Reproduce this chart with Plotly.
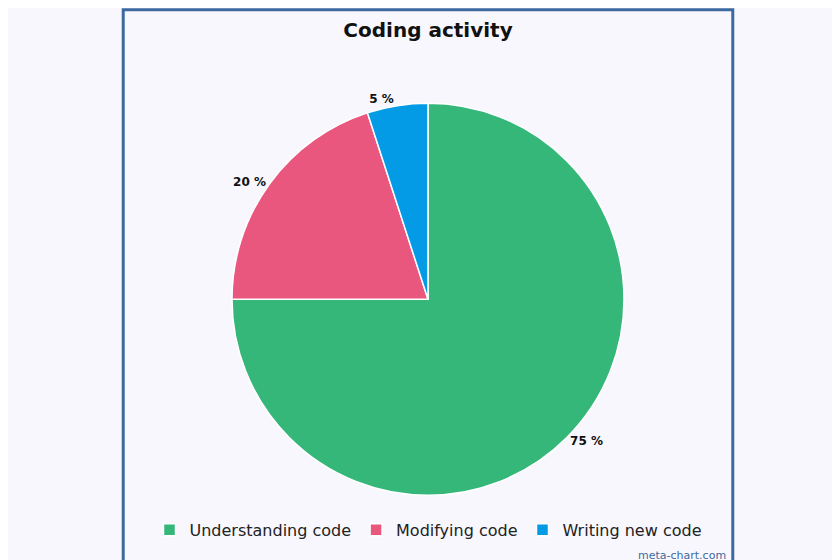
import plotly.graph_objects as go

categories = ["Understanding code", "Modifying code", "Writing new code"]
values = [75, 20, 5]
colors = ["#35b779", "#e9567e", "#039be5"]

fig = go.Figure(go.Pie(
    labels=categories,
    values=values,
    marker=dict(colors=colors, line=dict(color="white", width=1.5)),
    sort=False,
    direction="clockwise",
    rotation=0,
    texttemplate="<b>%{value} %</b>",
    textposition="outside",
    textfont=dict(family="DejaVu Sans", size=12, color="#111111"),
    hoverinfo="label+percent",
    domain=dict(x=[0, 1], y=[0.13, 0.83]),
))

fig.update_layout(
    width=840, height=560,
    title=dict(text="<b>Coding activity</b>", x=0.5, y=0.96, xanchor="center", yanchor="middle",
               font=dict(family="DejaVu Sans", size=20, color="#111111")),
    paper_bgcolor="#f8f7fd",
    margin=dict(l=0, r=0, t=0, b=0),
    legend=dict(orientation="h", x=0.5, xanchor="center", y=0.068, yanchor="middle",
                font=dict(family="DejaVu Sans", size=16, color="#222222")),
    shapes=[dict(type="rect", xref="paper", yref="paper", x0=0.002, y0=0.003, x1=0.998, y1=0.997,
                 line=dict(color="#3d6a9e", width=3))],
    annotations=[dict(text="meta-chart.com", xref="paper", yref="paper", x=0.99, y=0.008,
                      xanchor="right", yanchor="bottom", showarrow=False,
                      font=dict(family="DejaVu Sans", size=11, color="#3d6a9e"))],
)

fig.write_html("out.html")
